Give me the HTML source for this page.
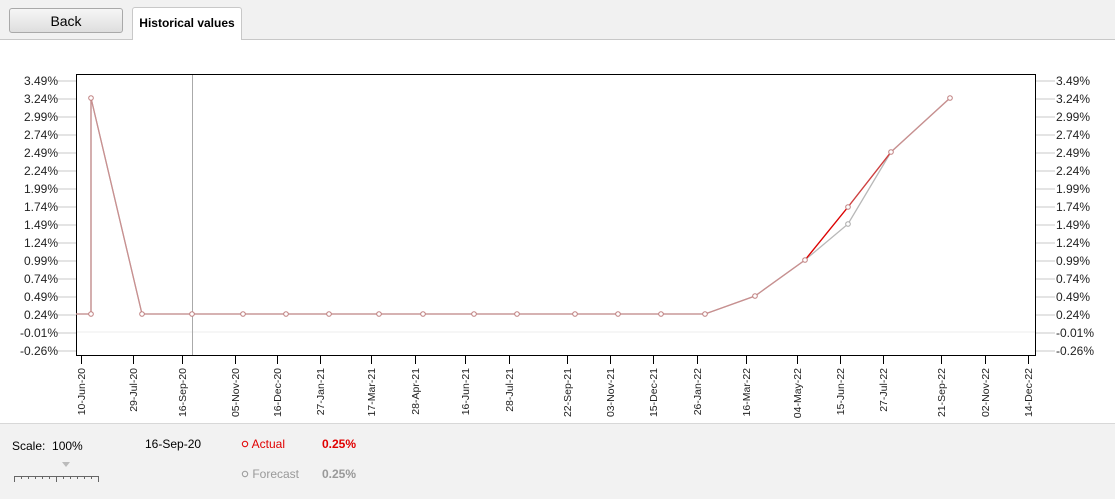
<!DOCTYPE html>
<html><head><style>
body{margin:0;width:1115px;height:498px;background:#fff;font-family:"Liberation Sans",Arial,sans-serif;position:relative;overflow:hidden}
.top{position:absolute;left:0;top:0;width:1115px;height:39px;background:#f1f1f1;border-bottom:1px solid #c8c8c8}
.btn{position:absolute;left:9px;top:8px;width:114px;height:25px;border:1px solid #a9a9a9;border-radius:3px;background:linear-gradient(#f6f6f6,#dedede);font-size:14px;text-align:center;line-height:25px;box-sizing:border-box}
.tab{position:absolute;left:132px;top:7px;width:110px;height:33px;background:#fff;border:1px solid #c8c8c8;border-bottom:none;border-radius:3px 3px 0 0;font-size:12px;font-weight:bold;text-align:center;line-height:30px;box-sizing:border-box}
.bot{position:absolute;left:0;top:423px;width:1115px;height:75px;background:#f2f2f2;border-top:1px solid #d8d8d8}
.t{position:absolute;font-size:12px}
</style></head><body>
<div class="top"><div class="btn">Back</div><div class="tab">Historical values</div></div>
<svg width="1115" height="423" style="position:absolute;left:0;top:0" font-family="Liberation Sans, Arial, sans-serif" font-size="12">
<line x1="76" y1="332" x2="1035" y2="332" stroke="#eee"/>
<rect x="76.5" y="74.5" width="959" height="281" fill="none" stroke="#000"/>
<line x1="192.5" y1="75" x2="192.5" y2="355" stroke="#aaa"/>
<g id="g"></g>
</svg>
<div class="bot">
<div class="t" style="left:12px;top:15px">Scale:&nbsp; 100%</div>
<div class="t" style="left:145px;top:13px">16-Sep-20</div>
<div class="t" style="left:241px;top:13px;color:#e00000"><svg width="8" height="8" style="vertical-align:0"><circle cx="4" cy="4" r="2.7" fill="none" stroke="#e00000"/></svg> Actual</div>
<div class="t" style="left:322px;top:13px;color:#e00000;font-weight:bold">0.25%</div>
<div class="t" style="left:241px;top:43px;color:#999"><svg width="8" height="8" style="vertical-align:0"><circle cx="4" cy="4" r="2.7" fill="none" stroke="#999"/></svg> Forecast</div>
<div class="t" style="left:322px;top:43px;color:#999;font-weight:bold">0.25%</div>
<svg width="100" height="30" style="position:absolute;left:10px;top:34px">
<polygon points="52,4 60,4 56,9" fill="#bbb"/>
<path d="M4.5,24V18.5H88.5V24" fill="none" stroke="#666"/>
<g stroke="#666" id="sc"></g>
</svg>
</div>
<script>
var ns="http://www.w3.org/2000/svg";
function el(p,n,a,t){var e=document.createElementNS(ns,n);for(var k in a)e.setAttribute(k,a[k]);if(t)e.textContent=t;p.appendChild(e);return e;}
var svg=document.querySelector("svg"),g=document.getElementById("g");
for(var i=0;i<16;i++){var v=(3.49-0.25*i).toFixed(2),y=81+18*i;
el(svg,"line",{x1:57,y1:y,x2:76,y2:y,stroke:"#e4e4e4","stroke-width":2});
el(svg,"line",{x1:1036,y1:y,x2:1055,y2:y,stroke:"#e4e4e4","stroke-width":2});
el(svg,"text",{x:58,y:y+4,"text-anchor":"end",fill:"#222"},v+"%");
el(svg,"text",{x:1056,y:y+4,fill:"#222"},v+"%");}
var xt=[[81,"10-Jun-20"],[133,"29-Jul-20"],[182,"16-Sep-20"],[235,"05-Nov-20"],[277,"16-Dec-20"],[320,"27-Jan-21"],[371,"17-Mar-21"],[415,"28-Apr-21"],[465,"16-Jun-21"],[509,"28-Jul-21"],[567,"22-Sep-21"],[610,"03-Nov-21"],[653,"15-Dec-21"],[697,"26-Jan-22"],[746,"16-Mar-22"],[797,"04-May-22"],[840,"15-Jun-22"],[883,"27-Jul-22"],[941,"21-Sep-22"],[985,"02-Nov-22"],[1028,"14-Dec-22"]];
xt.forEach(function(d){el(svg,"line",{x1:d[0]+.5,y1:356,x2:d[0]+.5,y2:364,stroke:"#000"});
el(svg,"text",{x:0,y:0,transform:"translate("+(d[0]+4)+",368) rotate(-90)","text-anchor":"end",fill:"#222","font-size":"10.5"},d[1]);});
var base=[[76,314],[91,314],[91,98],[142,314],[192,314],[243,314],[286,314],[329,314],[379,314],[423,314],[474,314],[517,314],[575,314],[618,314],[661,314],[705,314],[755,296],[805,260]];
var act=base.concat([[848,207],[891,152],[950,98]]),fc=base.concat([[848,224],[891,152],[950,98]]);
function pl(p,c){el(g,"polyline",{points:p.map(function(q){return q.join(",")}).join(" "),fill:"none",stroke:c,"stroke-width":1.3});}
pl(fc,"#b8b8b8");pl(act,"#c98f8f");
el(g,"line",{x1:805,y1:260,x2:848,y2:207,stroke:"#e00000","stroke-width":1.3});
el(g,"line",{x1:848,y1:207,x2:891,y2:152,stroke:"#d04040","stroke-width":1.3});
fc.slice(1).forEach(function(q){if(q[0]==848)el(g,"circle",{cx:q[0],cy:q[1],r:2.3,fill:"#fff",stroke:"#aaa"});});
act.slice(1).forEach(function(q){el(g,"circle",{cx:q[0],cy:q[1],r:2.3,fill:"#fff",stroke:"#c08080"});});
var sc=document.getElementById("sc");for(var j=0;j<=12;j++){var x=4.5+7*j;el(sc,"line",{x1:x,y1:18.5,x2:x,y2:j==6?24:21});}
</script>
</body></html>
